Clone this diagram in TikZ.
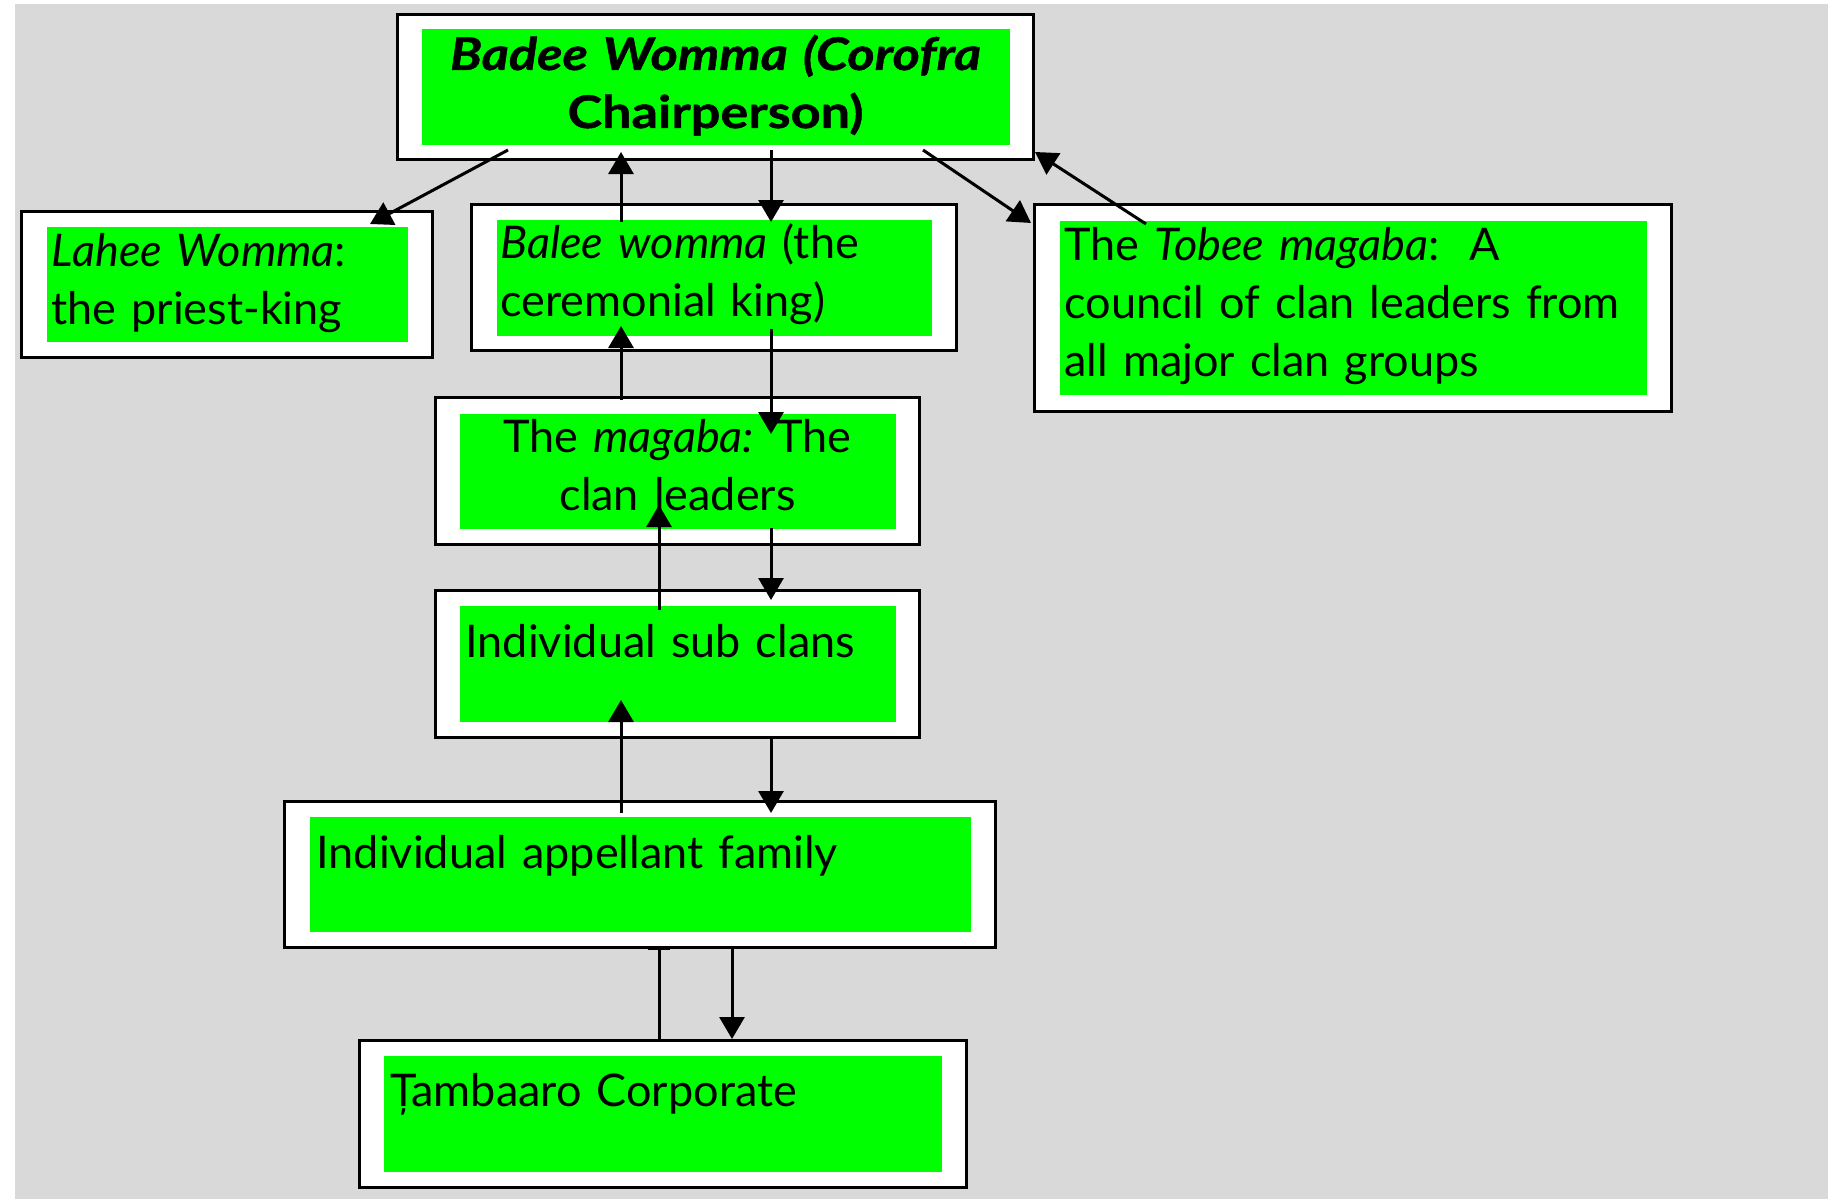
\documentclass[tikz,border=0pt]{standalone}
\usepackage{fontspec}
\setmainfont{Lato}
\newfontfamily\ttlfont[FakeStretch=1.16,FakeBold=1]{Lato}
\usepackage{tikz}
\usetikzlibrary{arrows.meta}
\definecolor{bgc}{HTML}{D9D9D9}
\definecolor{grnc}{HTML}{00FF00}

\begin{document}
\begin{tikzpicture}[x=1pt,y=-1pt,font=\fontsize{45}{58}\selectfont,
   frm/.style={draw,line width=3pt,fill=white,inner sep=0pt},
   grn/.style={fill=grnc,inner sep=0pt,align=left},
   arr/.style={line width=3pt,-{Triangle[width=25pt,length=22pt]}}]
  % background
  \useasboundingbox (0,0) rectangle (1828,1199);
  \fill[bgc] (15,4) rectangle (1828,1199);
  % frames
  \node[frm,minimum width=636pt,minimum height=145pt] (badee)  at (715.5,87)   {};
  \node[frm,minimum width=411pt,minimum height=146pt] (lahee)  at (227,284.5)  {};
  \node[frm,minimum width=485pt,minimum height=146pt] (balee)  at (714,277.5)  {};
  \node[frm,minimum width=637pt,minimum height=207pt] (tobee)  at (1353,308)   {};
  \node[frm,minimum width=484pt,minimum height=147pt] (magaba) at (677.5,471)  {};
  \node[frm,minimum width=484pt,minimum height=147pt] (sub)    at (677.5,664)  {};
  \node[frm,minimum width=711pt,minimum height=146pt] (appel)  at (640,874.5)  {};
  \node[frm,minimum width=607pt,minimum height=147pt] (tamb)   at (663,1114)   {};
  % green text blocks
  \node[grn,align=center,inner xsep=4pt,text width=580pt,text height=41pt,text depth=75pt] (badeeT) at (badee)
     {\ttlfont\bfseries\textit{Badee Womma (Corofra}\\Chairperson)};
  \node[grn,inner xsep=5pt,text width=351pt,text height=39pt,text depth=76pt] (laheeT) at (lahee)
     {\textit{Lahee Womma}:\\the priest-king};
  \node[grn,inner xsep=4pt,text width=427pt,text height=39pt,text depth=77pt] (baleeT) at (balee)
     {\textit{Balee womma} (the\\ceremonial king)};
  \node[grn,inner xsep=5pt,text width=577pt,text height=39pt,text depth=135pt] (tobeeT) at (tobee)
     {The \textit{Tobee magaba}:~~A\\council of clan leaders from\\all major clan groups};
  \node[grn,align=center,inner xsep=4pt,text width=428pt,text height=39pt,text depth=76pt] (magabaT) at (magaba)
     {The \textit{magaba:} The\\clan leaders};
  \node[grn,inner xsep=6pt,text width=424pt,text height=51pt,text depth=65pt] (subT) at (sub)
     {Individual sub clans};
  \node[grn,inner xsep=7pt,text width=647pt,text height=51pt,text depth=64pt] (appelT) at (appel)
     {Individual appellant family};
  \node[grn,inner xsep=6pt,text width=546pt,text height=50pt,text depth=66pt] (tambT) at (tamb)
     {Țambaaro Corporate};
  % connectors
  \draw[arr] ([shift={(112,-11)}]badee.south west) -- ([shift={(350,14)}]lahee.north west);
  \draw[arr] ([shift={(151,19)}]balee.north west) -- ([shift={(225,-9)}]badee.south west);
  \draw[arr] ([shift={(375,-11)}]badee.south west) -- ([shift={(301,19)}]balee.north west);
  \draw[arr] ([shift={(-112,-11)}]badee.south east) -- ([shift={(-2,20)}]tobee.north west);
  \draw[arr] ([shift={(113,21)}]tobee.north west) -- ([shift={(0,-9)}]badee.south east);
  \draw[arr] ([shift={(187,4)}]magaba.north west) -- ([shift={(151,-26)}]balee.south west);
  \draw[arr] ([shift={(301,-23)}]balee.south west) -- ([shift={(337,38)}]magaba.north west);
  \draw[arr] ([shift={(225,21)}]sub.north west) -- ([shift={(225,-41)}]magaba.south west);
  \draw[arr] ([shift={(337,-18)}]magaba.south west) -- ([shift={(337,11)}]sub.north west);
  \draw[arr] ([shift={(338,13)}]appel.north west) -- ([shift={(187,-39)}]sub.south west);
  \draw[arr] ([shift={(337,0)}]sub.south west) -- ([shift={(488,13)}]appel.north west);
  \draw[line width=3pt,-{Bar[width=22pt,line width=1pt]}] ([shift={(301,0)}]tamb.north west) -- ([shift={(376,0)}]appel.south west);
  \draw[arr] ([shift={(449,0)}]appel.south west) -- ([shift={(374,0)}]tamb.north west);
\end{tikzpicture}
\end{document}
